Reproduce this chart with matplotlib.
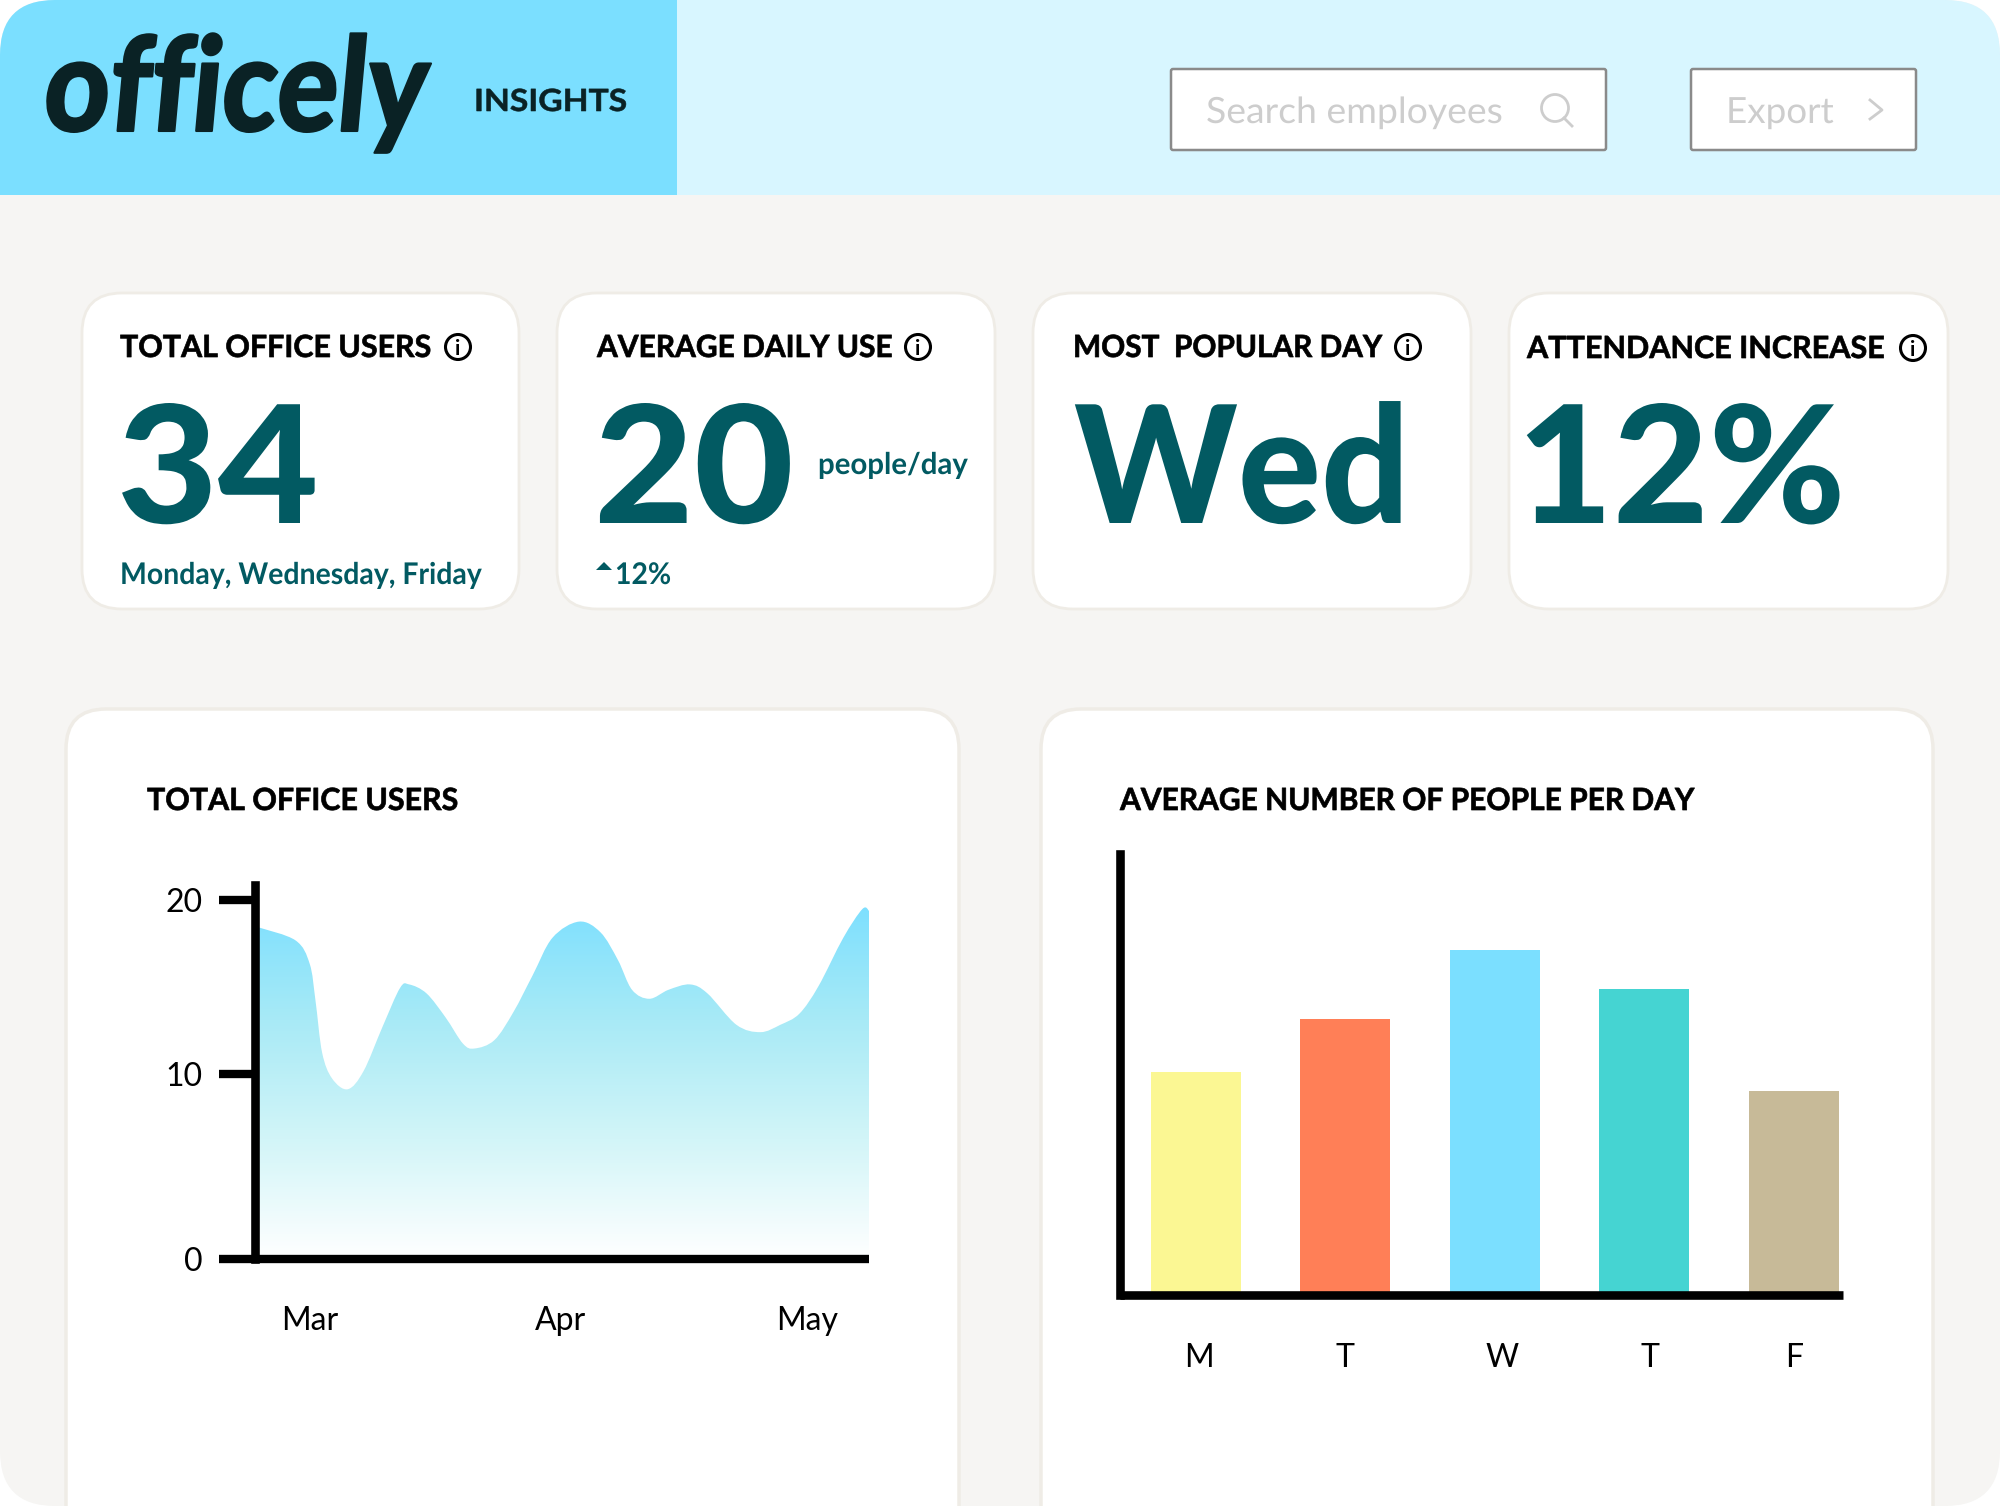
import numpy as np
import matplotlib
matplotlib.use("Agg")
from matplotlib import pyplot as plt
from matplotlib.colors import LinearSegmentedColormap
from matplotlib.patches import FancyBboxPatch, Rectangle, Circle, PathPatch, Polygon
from matplotlib.path import Path
from matplotlib.patheffects import AbstractPathEffect
from matplotlib.transforms import Affine2D

# 数据
days = [0, 4.4, 6.1, 6.8, 7.6, 8.8, 10.7, 12.6, 14.9, 17, 18.1, 20.2, 22.5, 24.6, 26, 28.4, 30.7, 33,
        35.4, 38.6, 41.2, 43.3, 45, 47.1, 49.4, 52, 54.1, 57.6, 60.5, 62.9, 65.2, 67.5, 70.5, 72.8, 73.6]
users = [18.47, 17.75, 16.45, 14.4, 11.5, 10.06, 9.46, 10.47, 12.95, 15.1, 15.3, 14.8, 13.46, 12.0, 11.73,
         12.2, 13.77, 15.8, 17.9, 18.8, 18.2, 16.66, 15.0, 14.5, 15.0, 15.3, 14.8, 13.05, 12.64, 13.05,
         13.67, 15.2, 17.9, 19.5, 19.4]
month_ticks = [6.1, 36.4, 66.1]
month_labels = ["Mar", "Apr", "May"]
weekdays = ["M", "T", "W", "T", "F"]
people_per_day = [16.5, 20.4, 25.5, 22.6, 15.1]
bar_colors = ["#FBF793", "#FF7F57", "#7BDFFF", "#45D4D2", "#C7BA98"]

W, H = 2000, 1506
TEAL = "#025A62"
DARK = "#0A2225"
GREY = "#CDCDCD"
plt.rcParams["font.family"] = ["Lato", "DejaVu Sans"]


class Fit(AbstractPathEffect):
    # 微调字形的宽高和粗细
    def __init__(self, sx=1.0, sy=1.0, stroke=0.0, shear=0.0):
        self.sx, self.sy, self.stroke, self.shear = sx, sy, stroke, shear

    def draw_path(self, renderer, gc, tpath, affine, rgbFace=None):
        aff = Affine2D().skew_deg(self.shear, 0).scale(self.sx, self.sy) + affine
        gc0 = renderer.new_gc()
        gc0.copy_properties(gc)
        gc0.set_linewidth(self.stroke)
        gc0.set_foreground(rgbFace)
        renderer.draw_path(gc0, tpath, aff, rgbFace)
        gc0.restore()


fig = plt.figure(figsize=(W / 100, H / 100), dpi=100, facecolor="white")

# 背景层，用像素坐标
bg = fig.add_axes([0, 0, 1, 1])
bg.set_xlim(0, W)
bg.set_ylim(H, 0)
bg.axis("off")

page = FancyBboxPatch((55, 55), W - 110, H - 110, boxstyle="round,pad=55,rounding_size=55",
                      fc="#F6F5F3", ec="none")
bg.add_patch(page)
top = Rectangle((677, 0), W - 677, 195, fc="#D8F6FF", ec="none")
left = Rectangle((0, 0), 677, 195, fc="#7BDFFF", ec="none")
bg.add_patch(top)
bg.add_patch(left)
top.set_clip_path(page)
left.set_clip_path(page)


def card(x0, y0, x1, y1, r=40, lw=2):
    p = FancyBboxPatch((x0 + r, y0 + r), x1 - x0 - 2 * r, y1 - y0 - 2 * r,
                       boxstyle=f"round,pad={r},rounding_size={r}", fc="white", ec="#EFECE6", lw=lw)
    bg.add_patch(p)
    return p


for x0, x1 in [(82, 519), (557, 995), (1033, 1471), (1509, 1948)]:
    card(x0, 293, x1, 609)
for x0, x1 in [(66, 959), (1041, 1933)]:
    p = card(x0, 709, x1, 1600, lw=2.5)
    p.set_clip_path(page)

# 顶部
bg.text(41, 131, "officely", fontsize=82, fontweight=900, color=DARK, va="baseline",
        path_effects=[Fit(sx=1.0, sy=1.15, stroke=1.5, shear=6)])
bg.text(474, 111, "INSIGHTS", fontsize=22, fontweight="bold", color=DARK, va="baseline",
        path_effects=[Fit(sx=1.1, stroke=0.4)])
for x0, x1 in [(1171, 1606), (1691, 1916)]:
    bg.add_patch(FancyBboxPatch((x0 + 2, 71), x1 - x0 - 4, 77, boxstyle="round,pad=2,rounding_size=2",
                                fc="white", ec="#8A8A8A", lw=1.8))
bg.text(1206, 123, "Search employees", fontsize=26, color=GREY, va="baseline", path_effects=[Fit(sx=1.035)])
bg.text(1726, 123, "Export", fontsize=26, color=GREY, va="baseline", path_effects=[Fit(sx=1.02)])
bg.add_patch(Circle((1555, 108), 13.5, fc="none", ec=GREY, lw=2))
bg.plot([1564, 1572], [118, 126], color=GREY, lw=2)
bg.plot([1870, 1882, 1870], [100, 110, 119], color=GREY, lw=2)

# 指标卡
titles = ["TOTAL OFFICE USERS", "AVERAGE DAILY USE", "MOST  POPULAR DAY", "ATTENDANCE INCREASE"]
title_x = [120, 597, 1073, 1527]
title_y = [357, 357, 357, 358]
title_fit = [0.995, 0.98, 0.975, 1.0]
icon_x = [458, 918, 1408, 1913]
big = ["34", "20", "Wed", "12%"]
big_x = [117, 594, 1074, 1517]
big_fit = [1.01, 1.0, 0.9, 0.96]
for t, tx, ty, tf, ix, b, bx, bf in zip(titles, title_x, title_y, title_fit, icon_x, big, big_x, big_fit):
    bg.text(tx, ty, t, fontsize=22, fontweight="bold", color="black", va="baseline",
            path_effects=[Fit(sx=tf, stroke=0.5)])
    bg.add_patch(Circle((ix, ty - 10), 12.5, fc="none", ec="black", lw=2.2))
    bg.text(ix, ty - 2, "i", fontsize=15, fontweight="bold", color="black", ha="center", va="baseline")
    bg.text(bx, 523, b, fontsize=124, fontweight=900, color=TEAL, va="baseline",
            path_effects=[Fit(sx=bf, sy=0.95)])
bg.text(818, 474, "people/day", fontsize=21.5, fontweight="bold", color=TEAL, va="baseline",
        path_effects=[Fit(sx=0.985)])
bg.text(120, 584, "Monday, Wednesday, Friday", fontsize=21.5, fontweight="bold", color=TEAL, va="baseline",
        path_effects=[Fit(sx=0.952)])
bg.add_patch(Polygon([(596, 570), (604, 562), (612, 570)], fc=TEAL, ec="none"))
bg.text(615, 584, "12%", fontsize=21.5, fontweight="bold", color=TEAL, va="baseline",
        path_effects=[Fit(sx=0.95)])

bg.text(147, 810, "TOTAL OFFICE USERS", fontsize=22, fontweight="bold", color="black", va="baseline",
        path_effects=[Fit(sx=0.995, stroke=0.5)])
bg.text(1120, 810, "AVERAGE NUMBER OF PEOPLE PER DAY", fontsize=22, fontweight="bold", color="black",
        va="baseline", path_effects=[Fit(sx=0.98, stroke=0.5)])


def px_axes(x0, y0, x1, y1):
    a = fig.add_axes([x0 / W, 1 - y1 / H, (x1 - x0) / W, (y1 - y0) / H])
    a.patch.set_alpha(0)
    for s in ["top", "right"]:
        a.spines[s].set_visible(False)
    return a


# 面积图
ax = px_axes(255, 885, 869, 1259)
x = np.array(days)
y = np.array(users)
# Catmull-Rom 转贝塞尔，只为曲线平滑
verts = [(x[0], 0), (x[0], y[0])]
codes = [Path.MOVETO, Path.LINETO]
for i in range(len(x) - 1):
    a0 = max(i - 1, 0)
    a3 = min(i + 2, len(x) - 1)
    verts += [(x[i] + (x[i + 1] - x[a0]) / 6, y[i] + (y[i + 1] - y[a0]) / 6),
              (x[i + 1] - (x[a3] - x[i]) / 6, y[i + 1] - (y[a3] - y[i]) / 6),
              (x[i + 1], y[i + 1])]
    codes += [Path.CURVE4] * 3
verts += [(x[-1], 0), (x[0], 0)]
codes += [Path.LINETO, Path.CLOSEPOLY]
shape = PathPatch(Path(verts, codes), fc="none", ec="none")
ax.add_patch(shape)
cmap = LinearSegmentedColormap.from_list("fade", ["#FFFFFF", "#D2F5F8", "#A8EAF6", "#7BDFFF"])
im = ax.imshow(np.linspace(1, 0, 256).reshape(-1, 1), extent=(x[0], x[-1], 0, 20), cmap=cmap,
               aspect="auto", vmin=0, vmax=1, zorder=1)
im.set_clip_path(shape)
ax.set_xlim(-0.5, 73.6)
ax.set_ylim(0, 20.84)
ax.spines["left"].set_linewidth(6.2)
ax.spines["left"].set_capstyle("projecting")
ax.spines["bottom"].set_linewidth(6.0)
ax.spines["bottom"].set_capstyle("butt")
ax.spines["left"].set_zorder(5)
ax.spines["bottom"].set_zorder(5)
ax.set_yticks([0, 10.3, 20], ["0", "10", "20"])
ax.set_xticks(month_ticks, month_labels)
ax.tick_params(axis="y", length=26, width=6.0, pad=12, labelsize=23)
ax.tick_params(axis="x", length=0, pad=34, labelsize=23)
for lab in ax.get_yticklabels():
    lab.set_va("center_baseline")

# 柱状图
ax2 = px_axes(1120, 854, 1843, 1294.5)
ax2.bar(range(5), people_per_day, width=0.602, color=bar_colors, zorder=1)
ax2.set_xlim(-0.508, 4.328)
ax2.set_ylim(0, 32.63)
ax2.spines["left"].set_linewidth(6.2)
ax2.spines["left"].set_capstyle("projecting")
ax2.spines["bottom"].set_linewidth(6.2)
ax2.spines["bottom"].set_capstyle("butt")
ax2.spines["left"].set_zorder(5)
ax2.spines["bottom"].set_zorder(5)
ax2.set_yticks([])
ax2.set_xticks([0.02, 1, 2.05, 3.04, 4], weekdays)
ax2.tick_params(axis="x", length=0, pad=35, labelsize=23)

fig.savefig("out.png", dpi=100, facecolor="white")
